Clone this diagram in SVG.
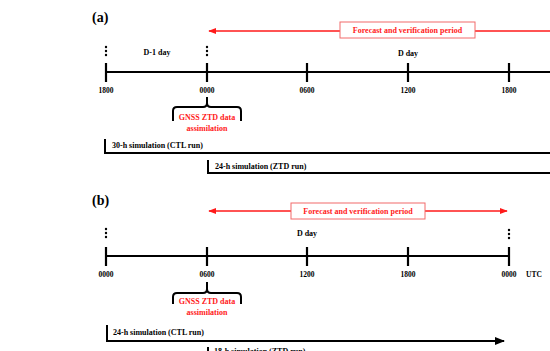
<svg xmlns="http://www.w3.org/2000/svg" width="550" height="351" viewBox="0 0 550 351">
<style>
  text { font-family: "Liberation Serif", "Times New Roman", serif; font-weight: bold; }
  .lbl { font-size: 14px; fill: #000; }
  .tk { font-size: 7.5px; fill: #000; text-anchor: middle; }
  .txt { font-size: 8px; fill: #000; }
  .red { font-size: 8px; fill: #ff1a1a; text-anchor: middle; }
  .axis { stroke: #000; stroke-width: 2; fill: none; }
  .tick { stroke: #000; stroke-width: 2.2; }
  .brace { stroke: #000; stroke-width: 2; fill: none; stroke-linejoin: round; }
  .sim { stroke: #000; stroke-width: 2; fill: none; }
  .rline { stroke: #ff1a1a; stroke-width: 1.6; fill: none; }
  .rbox { fill: #fff; stroke: #f26a6a; stroke-width: 1; }
  .dot { fill: #000; }
</style>
<defs>
  <marker id="rarrow" viewBox="0 0 10 10" refX="9" refY="5" markerWidth="5" markerHeight="5" orient="auto-start-reverse" markerUnits="strokeWidth">
    <path d="M0,1 L10,5 L0,9 Z" fill="#ff1a1a"/>
  </marker>
  <marker id="karrow" viewBox="0 0 10 10" refX="9" refY="5" markerWidth="5" markerHeight="5" orient="auto" markerUnits="strokeWidth">
    <path d="M0,1 L10,5 L0,9 Z" fill="#000"/>
  </marker>
  <g id="dots">
    <circle cx="0" cy="0" r="1.2"/>
    <circle cx="0" cy="4" r="1.2"/>
    <circle cx="0" cy="8" r="1.2"/>
  </g>
</defs>

<!-- Panel (a) -->
<g id="panel-a-label"><text class="lbl" x="92" y="22">(a)</text></g>

<g id="connectors">
  <!-- (a) forecast arrow -->
  <line class="rline" x1="560" y1="31" x2="209" y2="31" marker-end="url(#rarrow)"/>
  <!-- (a) timeline -->
  <line class="axis" x1="106" y1="72" x2="552" y2="72"/>
  <!-- (a) simulations -->
  <polyline class="sim" points="105,139 105,153 552,153"/>
  <polyline class="sim" points="208,160 208,173 552,173"/>
  <!-- (b) forecast arrow -->
  <line class="rline" x1="209" y1="211" x2="507" y2="211" marker-start="url(#rarrow)" marker-end="url(#rarrow)"/>
  <!-- (b) timeline -->
  <line class="axis" x1="106" y1="256" x2="509" y2="256"/>
  <!-- (b) simulations -->
  <polyline class="sim" points="107,325 107,341 504,341" marker-end="url(#karrow)"/>
  <polyline class="sim" points="208,347 208,360"/>
</g>

<g id="a-forecast-box">
  <rect class="rbox" x="340" y="22" width="135" height="16"/>
  <text class="red" x="407.5" y="33">Forecast and verification period</text>
</g>

<g id="a-ticks">
  <line class="tick" x1="106" y1="63" x2="106" y2="82"/>
  <line class="tick" x1="207" y1="63" x2="207" y2="82"/>
  <line class="tick" x1="307" y1="63" x2="307" y2="82"/>
  <line class="tick" x1="408" y1="63" x2="408" y2="82"/>
  <line class="tick" x1="509" y1="63" x2="509" y2="82"/>
  <use href="#dots" x="106" y="47"/>
  <use href="#dots" x="207" y="47"/>
  <text class="tk" x="106" y="93">1800</text>
  <text class="tk" x="207" y="93">0000</text>
  <text class="tk" x="307" y="93">0600</text>
  <text class="tk" x="408" y="93">1200</text>
  <text class="tk" x="509" y="93">1800</text>
  <text class="txt" x="157" y="55" text-anchor="middle">D-1 day</text>
  <text class="txt" x="408" y="56" text-anchor="middle">D day</text>
</g>

<g id="a-assim">
  <path class="brace" d="M173,121 L173,111 Q173,107 177,107 L203,107 Q207,107 207,103 L207,97 M207,103 Q207,107 211,107 L237,107 Q241,107 241,111 L241,121"/>
  <text class="red" x="207" y="120">GNSS ZTD data</text>
  <text class="red" x="207" y="131">assimilation</text>
</g>

<g id="a-ctl"><text class="txt" x="112" y="148">30-h simulation (CTL run)</text></g>
<g id="a-ztd"><text class="txt" x="215" y="169">24-h simulation (ZTD run)</text></g>

<!-- Panel (b) -->
<g id="panel-b-label"><text class="lbl" x="92" y="205">(b)</text></g>

<g id="b-forecast-box">
  <rect class="rbox" x="291" y="203" width="134" height="16"/>
  <text class="red" x="358" y="214">Forecast and verification period</text>
</g>

<g id="b-ticks">
  <line class="tick" x1="106" y1="247" x2="106" y2="266"/>
  <line class="tick" x1="207" y1="247" x2="207" y2="266"/>
  <line class="tick" x1="307" y1="247" x2="307" y2="266"/>
  <line class="tick" x1="408" y1="247" x2="408" y2="266"/>
  <line class="tick" x1="509" y1="247" x2="509" y2="266"/>
  <use href="#dots" x="106" y="229"/>
  <use href="#dots" x="509" y="230"/>
  <text class="tk" x="106" y="277">0000</text>
  <text class="tk" x="207" y="277">0600</text>
  <text class="tk" x="307" y="277">1200</text>
  <text class="tk" x="408" y="277">1800</text>
  <text class="tk" x="509" y="277">0000</text>
  <text class="tk" x="534" y="277">UTC</text>
  <text class="txt" x="307" y="236" text-anchor="middle">D day</text>
</g>

<g id="b-assim">
  <path class="brace" d="M173,304 L173,297 Q173,293 177,293 L203,293 Q207,293 207,289 L207,282 M207,289 Q207,293 211,293 L237,293 Q241,293 241,297 L241,304"/>
  <text class="red" x="207" y="304">GNSS ZTD data</text>
  <text class="red" x="207" y="315">assimilation</text>
</g>

<g id="b-ctl"><text class="txt" x="113" y="335">24-h simulation (CTL run)</text></g>
<g id="b-ztd"><text class="txt" x="214" y="354">18-h simulation (ZTD run)</text></g>
</svg>
